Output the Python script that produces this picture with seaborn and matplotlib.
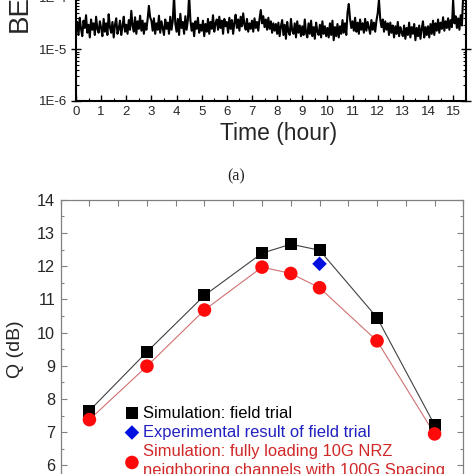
import numpy as np
import pandas as pd
import matplotlib
matplotlib.use("Agg")
import matplotlib.pyplot as plt
from matplotlib.ticker import MultipleLocator, FuncFormatter, LogLocator, NullFormatter
import seaborn as sns

# --- BER trace (units of 1E-5), one reading every 0.05 hour ---
ber_e5 = [
    2.3, 3.4, 1.9, 4.1, 2.5, 1.8, 3.6, 2.6, 4.6, 2.1, 3.0, 1.7, 3.8, 2.4, 3.2, 1.9, 4.3, 2.5, 2.1, 3.5,
    2.6, 1.8, 3.9, 2.2, 3.2, 1.9, 4.8, 2.7, 2.1, 3.4, 1.7, 3.0, 4.0, 2.0, 2.5, 3.6, 1.9, 2.8, 4.3, 2.2,
    3.0, 2.0, 3.7, 2.4, 5.6, 2.9, 2.2, 4.2, 2.0, 3.5, 2.5, 4.5, 2.3, 3.6, 2.0, 3.2, 2.4, 3.9, 7.0, 4.2,
    3.6, 2.3, 4.0, 2.0, 3.2, 2.4, 4.5, 2.1, 3.5, 2.6, 1.9, 3.8, 2.5, 3.3, 2.0, 4.3, 2.4, 3.6, 11.0, 3.2,
    2.2, 3.9, 1.9, 4.9, 2.6, 3.4, 2.0, 4.4, 2.4, 3.7, 11.5, 3.7, 2.3, 3.2, 1.8, 3.5, 2.5, 4.1, 2.1, 3.0,
    2.3, 3.6, 1.8, 3.1, 2.2, 3.9, 2.0, 3.4, 2.5, 4.6, 2.2, 3.2, 3.8, 2.4, 4.3, 2.6, 3.6, 2.0, 3.9, 2.8,
    3.4, 2.1, 4.1, 2.5, 3.7, 2.0, 3.3, 4.7, 2.6, 3.8, 2.3, 4.3, 2.8, 5.0, 3.0, 2.4, 3.9, 2.2, 3.2, 2.5,
    3.6, 2.2, 4.0, 2.6, 3.4, 2.3, 3.9, 5.8, 3.2, 4.4, 2.7, 3.8, 2.4, 4.1, 2.5, 3.5, 2.1, 3.2, 2.3, 3.1,
    2.0, 3.3, 1.8, 2.8, 3.7, 1.9, 3.0, 1.6, 3.4, 2.2, 1.9, 3.9, 2.3, 2.0, 3.2, 1.7, 3.5, 2.1, 2.9, 1.8,
    2.8, 1.9, 3.8, 2.1, 1.7, 3.2, 2.0, 3.6, 1.8, 2.7, 1.6, 3.3, 2.2, 1.9, 3.0, 1.7, 3.5, 2.0, 2.8, 1.8,
    2.6, 1.7, 3.2, 1.9, 3.6, 1.5, 2.7, 1.8, 3.1, 1.7, 2.8, 2.0, 3.7, 2.1, 3.2, 1.9, 5.2, 7.6, 3.9, 2.6,
    3.5, 2.3, 4.1, 2.2, 3.3, 2.0, 3.8, 2.4, 3.2, 2.1, 3.9, 2.3, 3.4, 2.6, 2.0, 3.7, 2.4, 3.3, 2.2, 3.6,
    5.0, 9.2, 3.9, 2.7, 3.8, 2.2, 3.5, 2.4, 3.2, 1.9, 3.3, 2.1, 2.9, 1.7, 2.8, 2.0, 3.4, 1.8, 2.7, 2.1,
    1.8, 2.9, 1.6, 2.6, 1.9, 3.3, 1.7, 2.7, 2.0, 3.1, 1.5, 2.6, 1.8, 2.9, 1.6, 2.5, 3.5, 1.7, 2.7, 1.9,
    2.8, 1.7, 3.1, 2.0, 3.6, 1.9, 3.2, 2.3, 3.8, 2.1, 3.3, 2.5, 4.2, 2.3, 3.5, 2.6, 4.0, 2.4, 3.7, 2.7,
    9.0, 3.2, 4.4, 2.6, 4.0, 2.4, 4.6, 2.9, 11.5,
]
time_hour = np.arange(len(ber_e5)) * 0.05

# --- Q values for panel (b) ---
power = [-6, -4, -2, 0, 1, 2, 4, 6]
q_field = [7.65, 9.42, 11.12, 12.39, 12.66, 12.48, 10.45, 7.22]
q_loaded = [7.38, 8.99, 10.68, 11.97, 11.78, 11.35, 9.75, 6.95]
exp_power = [2]
exp_q = [12.07]

ber_df = pd.DataFrame({"time": time_hour, "ber": np.array(ber_e5) * 1e-5})
q_df = pd.DataFrame({"power": power, "field": q_field, "loaded": q_loaded})
exp_df = pd.DataFrame({"power": exp_power, "q": exp_q})

sns.set_style("ticks")
plt.rcParams["font.family"] = ["Liberation Sans", "DejaVu Sans"]
plt.rcParams["xtick.direction"] = "in"
plt.rcParams["ytick.direction"] = "in"

fig = plt.figure(figsize=(4.74, 4.74), dpi=100)

# ---------------- panel (a): BER vs time ----------------
ax1 = fig.add_axes([0.1603, 0.7876, 0.8222, 0.3253])
sns.lineplot(data=ber_df, x="time", y="ber", ax=ax1, color="black", linewidth=1.5)
ax1.set_yscale("log")
ax1.set_ylim(1e-6, 1e-3)
ax1.set_xlim(0, 15.5)
ax1.xaxis.set_major_locator(MultipleLocator(1))
ax1.xaxis.set_minor_locator(MultipleLocator(0.5))
ax1.yaxis.set_major_locator(LogLocator(base=10))
ax1.yaxis.set_minor_locator(LogLocator(base=10, subs=np.arange(2, 10)))
ax1.yaxis.set_minor_formatter(NullFormatter())
ax1.yaxis.set_major_formatter(FuncFormatter(lambda v, p: f"1E{int(round(np.log10(v)))}"))
ax1.tick_params(which="both", right=True, top=True, labelsize=9.5, color="black")
ax1.tick_params(axis="y", which="major", direction="inout", length=7, width=1, pad=3)
ax1.tick_params(axis="x", which="major", length=4, width=1, pad=4)
ax1.tick_params(which="minor", length=2.5, width=0.8)
for s in ax1.spines.values():
    s.set_color("black")
    s.set_linewidth(1.5)
ax1.set_xlabel("Time (hour)", fontsize=16.5, labelpad=3)
ax1.xaxis.label.set_x(0.52)
ax1.set_ylabel("BER", fontsize=20)
ax1.yaxis.set_label_coords(-0.11, 0.63)

fig.text(0.498, 0.627, "(a)", family=["Liberation Serif", "DejaVu Serif"], fontsize=11.5,
         ha="center", va="center")

# ---------------- panel (b): Q vs power ----------------
ax2 = fig.add_axes([0.128, -0.0521, 0.8495, 0.6308])
sns.lineplot(data=q_df, x="power", y="field", ax=ax2, color="#404040", linewidth=0.8)
sns.lineplot(data=q_df, x="power", y="loaded", ax=ax2, color="#d07070", linewidth=0.8)
sns.scatterplot(data=q_df, x="power", y="field", ax=ax2, marker="s", s=75, color="black",
                edgecolor="none", label="Simulation: field trial", zorder=3)
sns.scatterplot(data=exp_df, x="power", y="q", ax=ax2, marker="D", s=55, color="#0010e0",
                edgecolor="none", label="Experimental result of field trial", zorder=3)
sns.scatterplot(data=q_df, x="power", y="loaded", ax=ax2, marker="o", s=95, color="#ff0a0a",
                edgecolor="none", zorder=3,
                label="Simulation: fully loading 10G NRZ\nneighboring channels with 100G Spacing")
ax2.set_xlim(-7, 7)
ax2.set_ylim(5, 14)
ax2.xaxis.set_major_locator(MultipleLocator(1))
ax2.yaxis.set_major_locator(MultipleLocator(1))
ax2.yaxis.set_minor_locator(MultipleLocator(0.5))
ax2.tick_params(which="both", right=True, top=True, labelsize=11.7, color="#808080", pad=4)
ax2.tick_params(which="major", length=4, width=0.8)
ax2.tick_params(which="minor", length=2, width=0.8)
for s in ax2.spines.values():
    s.set_color("#808080")
    s.set_linewidth(0.9)
ax2.set_xlabel("")
ax2.set_ylabel("Q (dB)", fontsize=14)
ax2.yaxis.set_label_coords(-0.09, 0.5)

leg = ax2.legend(loc="upper left", bbox_to_anchor=(0.14, 0.333), frameon=False, fontsize=11.9,
                 labelspacing=0.25, handletextpad=0.2, handlelength=1.0, borderaxespad=0)
for txt, c in zip(leg.get_texts(), ["black", "#2020c0", "#d02828"]):
    txt.set_color(c)
    txt.set_linespacing(1.3)

fig.savefig("out.png", dpi=100)
